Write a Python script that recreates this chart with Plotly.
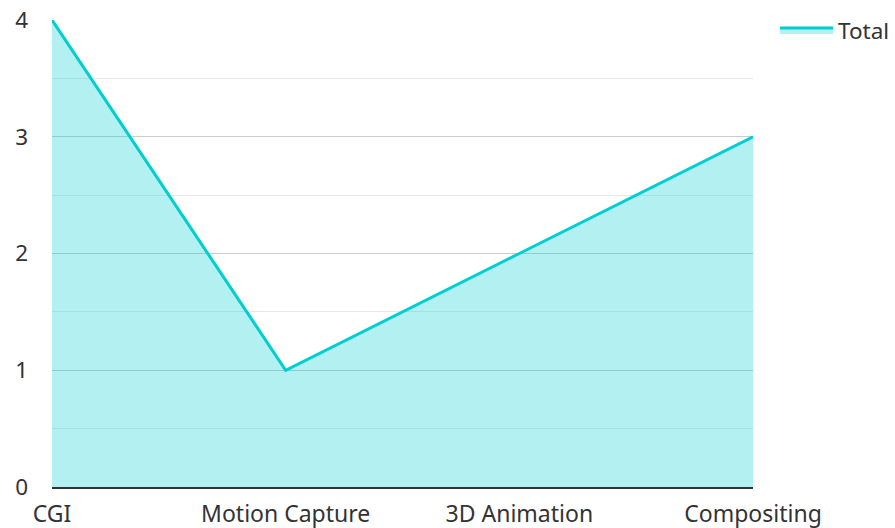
import plotly.graph_objects as go

categories = ["CGI", "Motion Capture", "3D Animation", "Compositing"]
totals = [4, 1, 2, 3]
series_name = "Total"
y_ticks = [0, 1, 2, 3, 4]

fig = go.Figure()
fig.add_trace(go.Scatter(
    x=categories, y=totals, name=series_name, mode="lines",
    line=dict(color="#00CED1", width=3),
    fill="tozeroy", fillcolor="rgba(0,206,209,0.3)",
))

W, H = 895, 528
ML, MR, MT, MB = 52, 142, 20, 41
fig.update_layout(
    width=W, height=H,
    margin=dict(l=ML, r=MR, t=MT, b=MB, autoexpand=False),
    paper_bgcolor="white", plot_bgcolor="white",
    font=dict(family="Noto Sans", size=23, color="#333333"),
    showlegend=True,
    legend=dict(x=(W - ML) / (W - ML - MR), y=1.024, xanchor="right", yanchor="top",
                font=dict(size=22.5, color="#333333"), itemwidth=53,
                bgcolor="rgba(0,0,0,0)"),
)
fig.update_xaxes(
    type="category", range=[0, 3], showgrid=False, zeroline=False,
    showline=True, linecolor="#333333", linewidth=2, automargin=False,
    ticks="", ticklabelstandoff=5, tickfont=dict(size=23),
    ticklabeloverflow="allow",
)
fig.update_yaxes(
    range=[0, 4], tickvals=y_ticks, showgrid=True, gridcolor="#cccccc", gridwidth=1,
    zeroline=False, showline=False, ticks="", ticklabelstandoff=23,
    tickfont=dict(size=22.5), automargin=False, ticklabeloverflow="allow",
    minor=dict(dtick=0.5, showgrid=True, gridcolor="#e8e8e8", gridwidth=1),
)

fig.write_html(
    "out.html",
    config={"displayModeBar": False},
    post_script="document.body.style.margin='0';document.body.style.overflow='hidden';",
)
